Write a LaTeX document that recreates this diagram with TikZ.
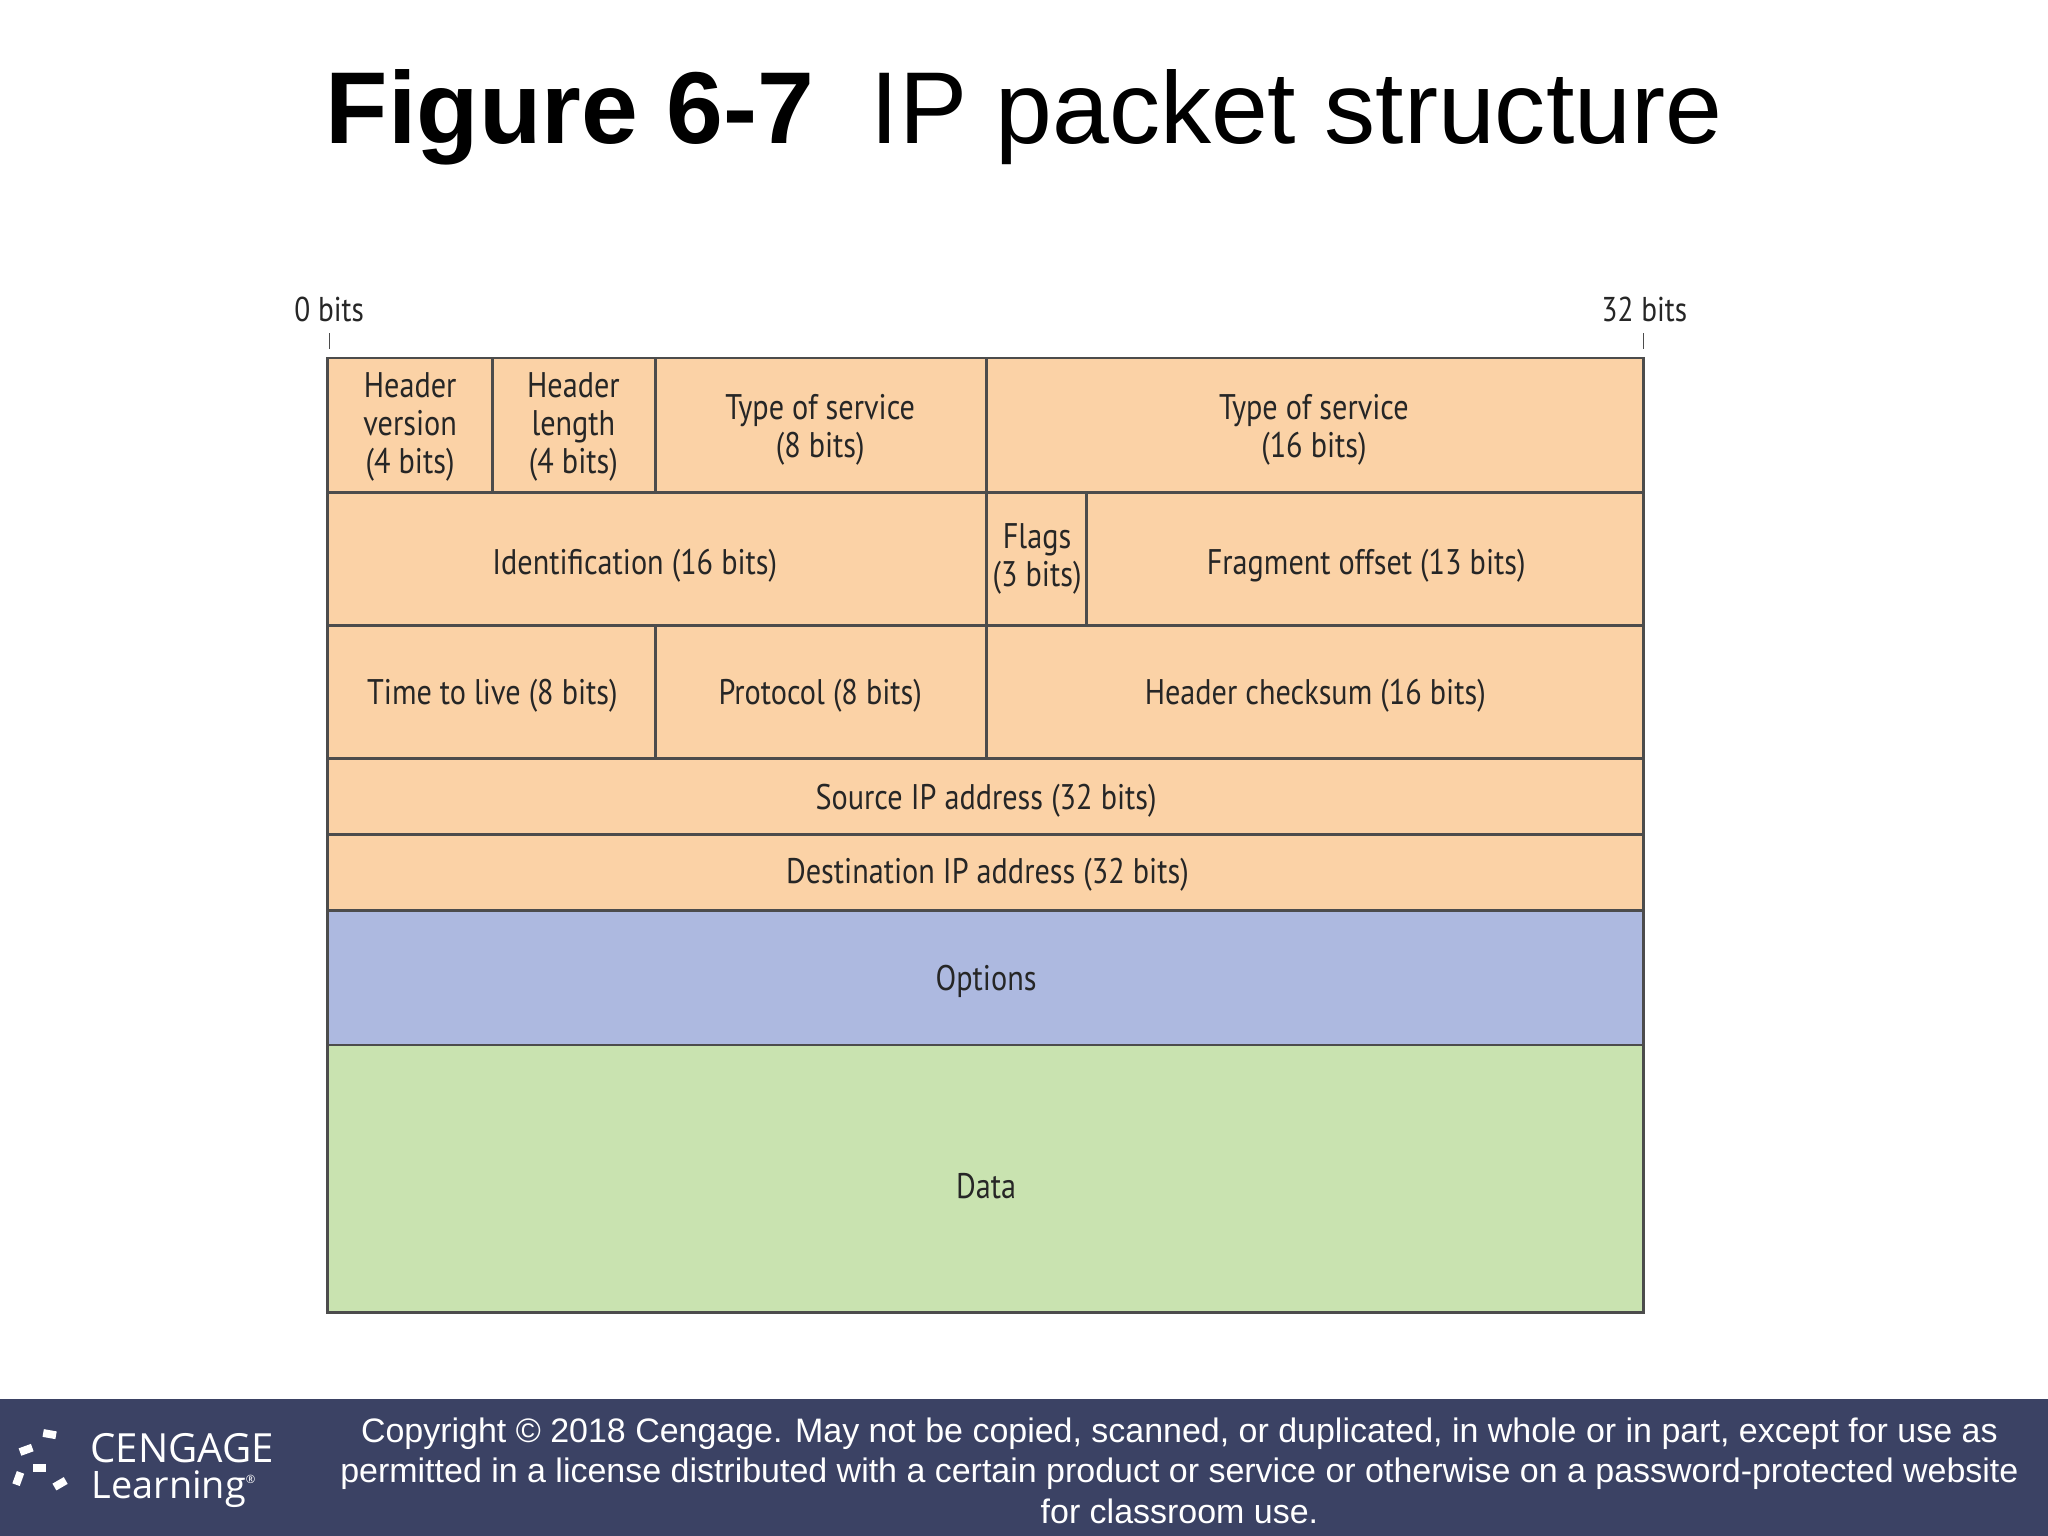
\documentclass[tikz,border=0pt]{standalone}
\usepackage{fontspec}
\setmainfont{Liberation Sans}
\newfontfamily\boxfont[FakeStretch=0.85]{PT Sans}
\newfontfamily\logofont{Open Sans}
\definecolor{hdr}{RGB}{251,210,166}
\definecolor{optc}{RGB}{173,185,224}
\definecolor{datc}{RGB}{201,227,176}
\definecolor{foot}{RGB}{59,66,100}
\begin{document}
\begin{tikzpicture}[x=0.02cm,y=-0.02cm,
  fld/.style={draw=black!70,line width=1.2pt},
  lbl/.style={font=\boxfont\fontsize{15.5}{16.5}\selectfont,align=center,text=black!85},
  orange/.style={fill=hdr}]
\useasboundingbox (0,0) rectangle (1568,1176);
\fill[white] (0,0) rectangle (1568,1176);
\node[font=\fontsize{44.5}{50}\selectfont] (title) at (784,90) {\textbf{Figure 6-7}\ \ IP packet structure};
\node[lbl,font=\boxfont\fontsize{15}{18}\selectfont] (b0) at (252,237) {0 bits};
\node[lbl,font=\boxfont\fontsize{15}{18}\selectfont] (b32) at (1259,237) {32 bits};
\draw[black!70] (252,255) -- (252,267);
\draw[black!70] (1258,255) -- (1258,267);
\draw[fld,orange] (251,274) rectangle (377,377);
\draw[fld,orange] (377,274) rectangle (502,377);
\draw[fld,orange] (502,274) rectangle (755,377);
\draw[fld,orange] (755,274) rectangle (1258,377);
\node[lbl] (hv) at (314,327) {Header\\version\\(4 bits)};
\node[lbl] (hl) at (439,327) {Header\\length\\(4 bits)};
\node[lbl] (tos) at (628,329) {Type of service\\(8 bits)};
\node[lbl] (tl) at (1006,329) {Type of service\\(16 bits)};
\draw[fld,orange] (251,377) rectangle (755,479);
\draw[fld,orange] (755,377) rectangle (832,479);
\draw[fld,orange] (832,377) rectangle (1258,479);
\node[lbl] (id) at (486,433) {Identification (16 bits)};
\node[lbl] (fl) at (794,428) {Flags\\(3 bits)};
\node[lbl] (fo) at (1046,433) {Fragment offset (13 bits)};
\draw[fld,orange] (251,479) rectangle (502,581);
\draw[fld,orange] (502,479) rectangle (755,581);
\draw[fld,orange] (755,479) rectangle (1258,581);
\node[lbl] (ttl) at (377,533) {Time to live (8 bits)};
\node[lbl] (pr) at (628,533) {Protocol (8 bits)};
\node[lbl] (hc) at (1007,533) {Header checksum (16 bits)};
\draw[fld,orange] (251,581) rectangle (1258,639);
\draw[fld,orange] (251,639) rectangle (1258,697);
\node[lbl] (src) at (755,613) {Source IP address (32 bits)};
\node[lbl] (dst) at (756,670) {Destination IP address (32 bits)};
\draw[fld,fill=optc] (251,697) rectangle (1258,800);
\draw[fld,fill=datc] (251,800) rectangle (1258,1005);
\node[lbl] (opt) at (755,751) {Options};
\node[lbl] (data) at (755,908) {Data};
\fill[foot] (0,1071) rectangle (1568,1176);
\foreach \p/\a in {{20,1110}/20,{38,1098}/-10,{14,1132}/70,{46,1136}/30,{30,1124}/0}
  \fill[white,rotate around={\a:(\p)}] (\p) ++(-5,-3) rectangle ++(10,6);
\node[white,anchor=west,font=\logofont\fontsize{17.5}{20}\selectfont] (cg) at (63,1109) {CENGAGE};
\node[white,anchor=west,font=\logofont\fontsize{16.5}{20}\selectfont] (lr) at (64,1140) {Learning\textsuperscript{\tiny ®}};
\node[white,align=center,font=\fontsize{14.8}{17.5}\selectfont] (copy) at (903,1126)
 {Copyright © 2018 Cengage. May not be copied, scanned, or duplicated, in whole or in part, except for use as\\
 permitted in a license distributed with a certain product or service or otherwise on a password-protected website\\
 for classroom use.};
\end{tikzpicture}
\end{document}
